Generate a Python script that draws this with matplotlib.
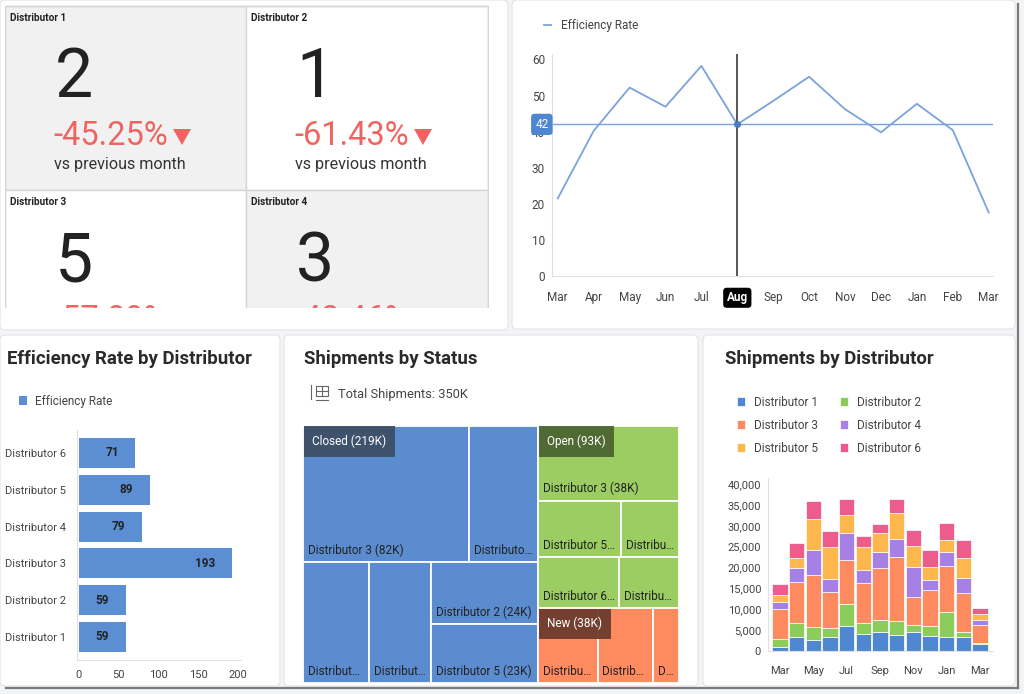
import matplotlib
matplotlib.use('Agg')
import matplotlib.pyplot as plt
from matplotlib.patches import Rectangle, FancyBboxPatch, Polygon
from matplotlib.ticker import FuncFormatter

plt.rcParams['font.family'] = ['Roboto', 'DejaVu Sans']

W, H = 1024, 694

# ---------------- data ----------------
kpi_names = ['Distributor 1', 'Distributor 2', 'Distributor 3', 'Distributor 4']
kpi_values = [2, 1, 5, 3]
kpi_changes = ['-45.25%', '-61.43%', '-57.89%', '-43.46%']
kpi_note = 'vs previous month'

months = ['Mar', 'Apr', 'May', 'Jun', 'Jul', 'Aug', 'Sep', 'Oct', 'Nov', 'Dec', 'Jan', 'Feb', 'Mar']
efficiency_trend = [21.5, 40.2, 52.2, 46.9, 58.2, 42, 48.5, 55.2, 46.2, 39.8, 47.7, 40.4, 17.6]
highlight_idx = 5  # Aug

dist_names = ['Distributor 1', 'Distributor 2', 'Distributor 3',
              'Distributor 4', 'Distributor 5', 'Distributor 6']
dist_efficiency = [59, 59, 193, 79, 89, 71]

status_names = ['Closed', 'Open', 'New']
closed_dists = ['Distributor 3', 'Distributor 1', 'Distributor 4', 'Distributor 6', 'Distributor 2', 'Distributor 5']
closed_k = [82, 34, 29, 27, 24, 23]
open_dists = ['Distributor 3', 'Distributor 5', 'Distributor 1', 'Distributor 6', 'Distributor 4']
open_k = [38, 17, 12, 15, 11]
new_dists = ['Distributor 3', 'Distributor 5', 'Distributor 1']
new_k = [16, 15, 7]
total_shipments = '350K'

ship_d1 = [1000, 3300, 2700, 3400, 5900, 4000, 4500, 3900, 4600, 3700, 3400, 3400, 1700]
ship_d2 = [1800, 3300, 3100, 2000, 5400, 2600, 2900, 3400, 1600, 2200, 6000, 1100, 300]
ship_d3 = [7200, 10000, 12400, 8700, 10600, 9600, 12500, 15300, 6800, 8800, 10900, 9300, 4200]
ship_d4 = [1800, 3300, 6000, 3200, 6300, 3200, 3900, 4200, 7200, 2400, 3300, 3800, 1200]
ship_d5 = [1500, 2400, 7300, 7700, 4300, 5500, 4500, 6200, 4900, 3100, 3000, 4600, 1400]
ship_d6 = [2700, 3500, 4400, 3800, 4000, 2700, 2100, 3500, 3900, 4000, 4000, 4500, 1600]

# ---------------- styles ----------------
RED = '#ef6461'
LINE_BLUE = '#7ba3db'
BAR_BLUE = '#5b8ed3'
TM_COLORS = ['#5b8cd0', '#9ccd62', '#fe8a5f']
TM_HEAD = ['#3e4f67', '#4c6531', '#6d3b2c']
STACK_COLORS = ['#4f88d1', '#8ccc5a', '#fe8a60', '#a780e6', '#fdb74c', '#ec5d8b']
TXT = '#333333'

fig = plt.figure(figsize=(W / 100, H / 100), dpi=100)
fig.patch.set_facecolor('#f3f4f6')


def px_axes(x0, y0, x1, y1, **kw):
    return fig.add_axes([x0 / W, 1 - y1 / H, (x1 - x0) / W, (y1 - y0) / H], **kw)


def fx(x):
    return x / W


def fy(y):
    return 1 - y / H


# ---------------- background cards ----------------
bg = px_axes(0, 0, W, H)
bg.set_xlim(0, W)
bg.set_ylim(H, 0)
bg.axis('off')
cards = [(0, 0, 508, 330), (512, 0, 1015, 329), (0, 335, 280, 686),
         (284, 335, 698, 686), (703, 335, 1015, 686)]
for (x0, y0, x1, y1) in cards:
    bg.add_patch(FancyBboxPatch((x0, y0), x1 - x0, y1 - y0,
                                boxstyle='round,pad=0,rounding_size=5',
                                fc='white', ec='#e4e4e6', lw=0.8))
bg.plot([6, 1018], [687.5, 687.5], color='#7a7a7a', lw=1.6)
bg.plot([1017.5, 1017.5], [4, 688], color='#7a7a7a', lw=1.6)

# ---------------- KPI grid ----------------
kpi = px_axes(5, 5, 489, 308)
kpi.set_xlim(5, 489)
kpi.set_ylim(308, 5)
kpi.axis('off')
cells = [(5, 6, 246, 190), (246, 6, 488, 190), (5, 190, 246, 330), (246, 190, 488, 330)]
cell_bg = ['#f1f1f1', 'white', 'white', '#f1f1f1']
for i, (x0, y0, x1, y1) in enumerate(cells):
    kpi.add_patch(Rectangle((x0, y0), x1 - x0, y1 - y0, fc=cell_bg[i], ec='#d6d6d6', lw=1.0))
    kpi.text(x0 + 5, y0 + 12, kpi_names[i], fontsize=7.2, fontweight='bold',
             color='#222222', va='center', ha='left', clip_on=True)
    lx = x0 + 48
    kpi.text(lx + 2, y0 + 91, str(kpi_values[i]), fontsize=49, color='#222222',
             va='baseline', ha='left', clip_on=True)
    kpi.text(lx, y0 + 139, kpi_changes[i], fontsize=23.5, color=RED,
             va='baseline', ha='left', clip_on=True)
    tx0 = lx + 120
    tri = Polygon([[tx0, y0 + 123], [tx0 + 18, y0 + 123], [tx0 + 9, y0 + 139]],
                  closed=True, fc=RED, ec='none')
    kpi.add_patch(tri)
    if i < 2:  # lower row notes are cut off by the panel edge
        kpi.text(lx + 1, y0 + 158, kpi_note, fontsize=11.6, color=TXT,
                 va='center', ha='left', clip_on=True)
kpi.add_patch(Rectangle((5, 6), 483, 340, fc='none', ec='#d6d6d6', lw=1.0))

# ---------------- line chart ----------------
ax1 = px_axes(552, 54, 993, 276)
x_idx = list(range(len(months)))
ax1.plot(x_idx, efficiency_trend, color=LINE_BLUE, lw=1.3, label='Efficiency Rate', zorder=3)
ax1.axhline(efficiency_trend[highlight_idx], color=LINE_BLUE, lw=1.0, zorder=2)
ax1.axvline(highlight_idx, color='#3a3a3a', lw=1.2, zorder=4)
ax1.plot([highlight_idx], [efficiency_trend[highlight_idx]], 'o', ms=4, color='#4a7cc4', zorder=5)
ax1.set_xlim(-0.16, 12.12)
ax1.set_ylim(0, 61.5)
ax1.set_yticks(range(0, 61, 10))
ax1.set_xticks(x_idx)
ax1.set_xticklabels(months)
for s in ['top', 'right']:
    ax1.spines[s].set_visible(False)
for s in ['left', 'bottom']:
    ax1.spines[s].set_color('#e0e0e0')
ax1.tick_params(axis='both', length=0, labelsize=8.5, labelcolor='#444444')
ax1.tick_params(axis='x', pad=11)
ax1.tick_params(axis='y', pad=5)
lab = ax1.get_xticklabels()[highlight_idx]
lab.set_color('white')
lab.set_fontweight('bold')
lab.set_bbox(dict(boxstyle='round,pad=0.3,rounding_size=0.3', fc='black', ec='none'))
ax1.text(-0.023, efficiency_trend[highlight_idx], f'{efficiency_trend[highlight_idx]:g}',
         transform=ax1.get_yaxis_transform(), ha='center', va='center', color='white',
         fontsize=8.5, zorder=10, clip_on=False,
         bbox=dict(boxstyle='round,pad=0.35,rounding_size=0.3', fc='#4f86d0', ec='none'))
ax1.legend(loc='center left', bbox_to_anchor=(fx(533), fy(26)), bbox_transform=fig.transFigure,
           frameon=False, fontsize=8.5, handlelength=0.6, handletextpad=0.9,
           labelcolor='#444444')

# tooltip
bg.add_patch(FancyBboxPatch((768, 131), 167, 56, boxstyle='round,pad=0,rounding_size=5',
                            fc='#f3f3f3', ec='none', zorder=5))
bg.add_patch(FancyBboxPatch((766, 130), 167, 56, boxstyle='round,pad=0,rounding_size=5',
                            fc='white', ec='#ececec', lw=0.8, zorder=6))
bg.text(780, 144, months[highlight_idx], fontsize=9.5, fontweight='bold', color='#222222',
        va='center', ha='left', zorder=7)
bg.plot([782, 789], [174, 174], color='#4f86d0', lw=2, zorder=7)
bg.text(797, 174, 'Efficiency Rate', fontsize=8, color='#444444', va='center', ha='left', zorder=7)
bg.text(923, 174, f'{efficiency_trend[highlight_idx]:g}', fontsize=8, color='#444444',
        va='center', ha='right', zorder=7)

# ---------------- efficiency by distributor ----------------
bg.text(7, 359, 'Efficiency Rate by Distributor', fontsize=13.4, fontweight='bold',
        color='#2a2a2a', va='center', ha='left')
ax2 = px_axes(77, 430, 241, 660)
y_idx = list(range(len(dist_names)))
ax2.barh(y_idx, dist_efficiency, height=0.82, color=BAR_BLUE, label='Efficiency Rate')
for i, v in enumerate(dist_efficiency):
    ax2.annotate(str(v), xy=(v, i), xytext=(-12, 0), textcoords='offset points',
                 ha='right', va='center', fontsize=8.5, fontweight='bold', color='#222222')
ax2.set_xlim(-2.5, 203.8)
ax2.set_ylim(-0.625, 5.625)
ax2.set_yticks(y_idx)
ax2.set_yticklabels(dist_names)
ax2.set_xticks([0, 50, 100, 150, 200])
for s in ['top', 'right']:
    ax2.spines[s].set_visible(False)
for s in ['left', 'bottom']:
    ax2.spines[s].set_color('#e0e0e0')
ax2.tick_params(axis='both', length=0, labelsize=8, labelcolor='#444444')
ax2.tick_params(axis='y', pad=8)
ax2.tick_params(axis='x', pad=7)
ax2.legend(loc='center left', bbox_to_anchor=(fx(8), fy(401)), bbox_transform=fig.transFigure,
           frameon=False, fontsize=8.5, handlelength=0.7, handleheight=0.7, handletextpad=0.7,
           labelcolor='#444444')

# ---------------- treemap ----------------
bg.text(304, 359, 'Shipments by Status', fontsize=13.4, fontweight='bold',
        color='#2a2a2a', va='center', ha='left')
# icon
bg.add_patch(Rectangle((316, 386), 12, 10, fc='none', ec='#666666', lw=0.8))
bg.plot([322, 322], [386, 396], color='#666666', lw=0.8)
bg.plot([316, 328], [391, 391], color='#666666', lw=0.8)
bg.plot([311, 311], [385, 399], color='#666666', lw=0.8)
bg.plot([316, 328], [400, 400], color='#666666', lw=0.8)
bg.text(338, 394, f'Total Shipments: {total_shipments}', fontsize=9.3, color='#444444',
        va='center', ha='left')

ax3 = px_axes(303, 426, 679, 683)
ax3.set_xlim(0, 1)
ax3.set_ylim(1, 0)
ax3.axis('off')


def split(rect, weights, horizontal):
    x, y, w, h = rect
    tot = float(sum(weights))
    out, pos = [], 0.0
    for wt in weights:
        f = wt / tot
        if horizontal:
            out.append((x + pos * w, y, f * w, h))
        else:
            out.append((x, y + pos * h, w, f * h))
        pos += f
    return out


closed_r, right_r = split((0, 0, 1, 1), [sum(closed_k), sum(open_k) + sum(new_k)], True)
open_r, new_r = split(right_r, [sum(open_k), sum(new_k)], False)
top_row, bottom_row = split(closed_r, [closed_k[0] + closed_k[1], sum(closed_k[2:])], False)
c_rects = split(top_row, closed_k[:2], True)
b = split(bottom_row, [closed_k[2], closed_k[3], closed_k[4] + closed_k[5]], True)
c_rects += b[:2] + split(b[2], closed_k[4:6], False)
o = split(open_r, [open_k[0], open_k[1] + open_k[2], open_k[3] + open_k[4]], False)
o_rects = [o[0]] + split(o[1], open_k[1:3], True) + split(o[2], open_k[3:5], True)
n_rects = split(new_r, new_k, True)

groups = [(c_rects, closed_dists, closed_k, closed_r),
          (o_rects, open_dists, open_k, open_r),
          (n_rects, new_dists, new_k, new_r)]
renderer = fig.canvas.get_renderer()
ax_w_px = 679 - 303
for gi, (rects, names, vals, grect) in enumerate(groups):
    for (x, y, w, h), nm, v in zip(rects, names, vals):
        ax3.add_patch(Rectangle((x, y), w, h, fc=TM_COLORS[gi], ec='white', lw=1.3))
        full = f'{nm} ({v}K)'
        t = ax3.annotate(full, xy=(x, y + h), xytext=(3.5, 8.5), textcoords='offset points',
                         ha='left', va='center', fontsize=8.5, color='#222222')
        maxw = w * ax_w_px - 8
        if t.get_window_extent(renderer).width > maxw:
            for n in range(len(full) - 1, 0, -1):
                t.set_text(full[:n] + '…')
                if t.get_window_extent(renderer).width <= maxw:
                    break
    gx, gy, gw, gh = grect
    ax3.annotate(f'{status_names[gi]} ({sum(vals)}K)', xy=(gx, gy), xytext=(6.5, -6.2),
                 textcoords='offset points', ha='left', va='top', fontsize=8.5, color='white',
                 bbox=dict(boxstyle='square,pad=0.72', fc=TM_HEAD[gi], ec='none', alpha=0.95))

# ---------------- stacked bars ----------------
bg.text(725, 359, 'Shipments by Distributor', fontsize=13.4, fontweight='bold',
        color='#2a2a2a', va='center', ha='left')
ax4 = px_axes(768, 478, 993, 651)
series = [ship_d1, ship_d2, ship_d3, ship_d4, ship_d5, ship_d6]
bottom = [0] * len(months)
handles = []
for i, s in enumerate(series):
    bc = ax4.bar(x_idx, s, bottom=bottom, width=0.92, color=STACK_COLORS[i],
                 edgecolor='white', linewidth=0.5, label=dist_names[i])
    handles.append(bc)
    bottom = [b0 + v for b0, v in zip(bottom, s)]
ax4.set_xlim(-0.716, 12.78)
ax4.set_ylim(0, 41440)
ax4.set_yticks(range(0, 40001, 5000))
ax4.yaxis.set_major_formatter(FuncFormatter(lambda v, p: f'{int(v):,}'))
ax4.set_xticks(x_idx[::2])
ax4.set_xticklabels(months[::2])
for s in ['top', 'right']:
    ax4.spines[s].set_visible(False)
for s in ['left', 'bottom']:
    ax4.spines[s].set_color('#e0e0e0')
ax4.tick_params(axis='both', length=0, labelsize=8, labelcolor='#444444')
ax4.tick_params(axis='x', pad=11)
ax4.tick_params(axis='y', pad=5)
order = [0, 2, 4, 1, 3, 5]
ax4.legend([handles[i] for i in order], [dist_names[i] for i in order], ncol=2,
           loc='upper left', bbox_to_anchor=(fx(726), fy(385)), bbox_transform=fig.transFigure,
           frameon=False, fontsize=8.5, handlelength=0.7, handleheight=0.7, handletextpad=0.8,
           columnspacing=1.8, labelspacing=0.85, labelcolor='#444444')

fig.savefig('out.png', dpi=100, facecolor=fig.get_facecolor())
